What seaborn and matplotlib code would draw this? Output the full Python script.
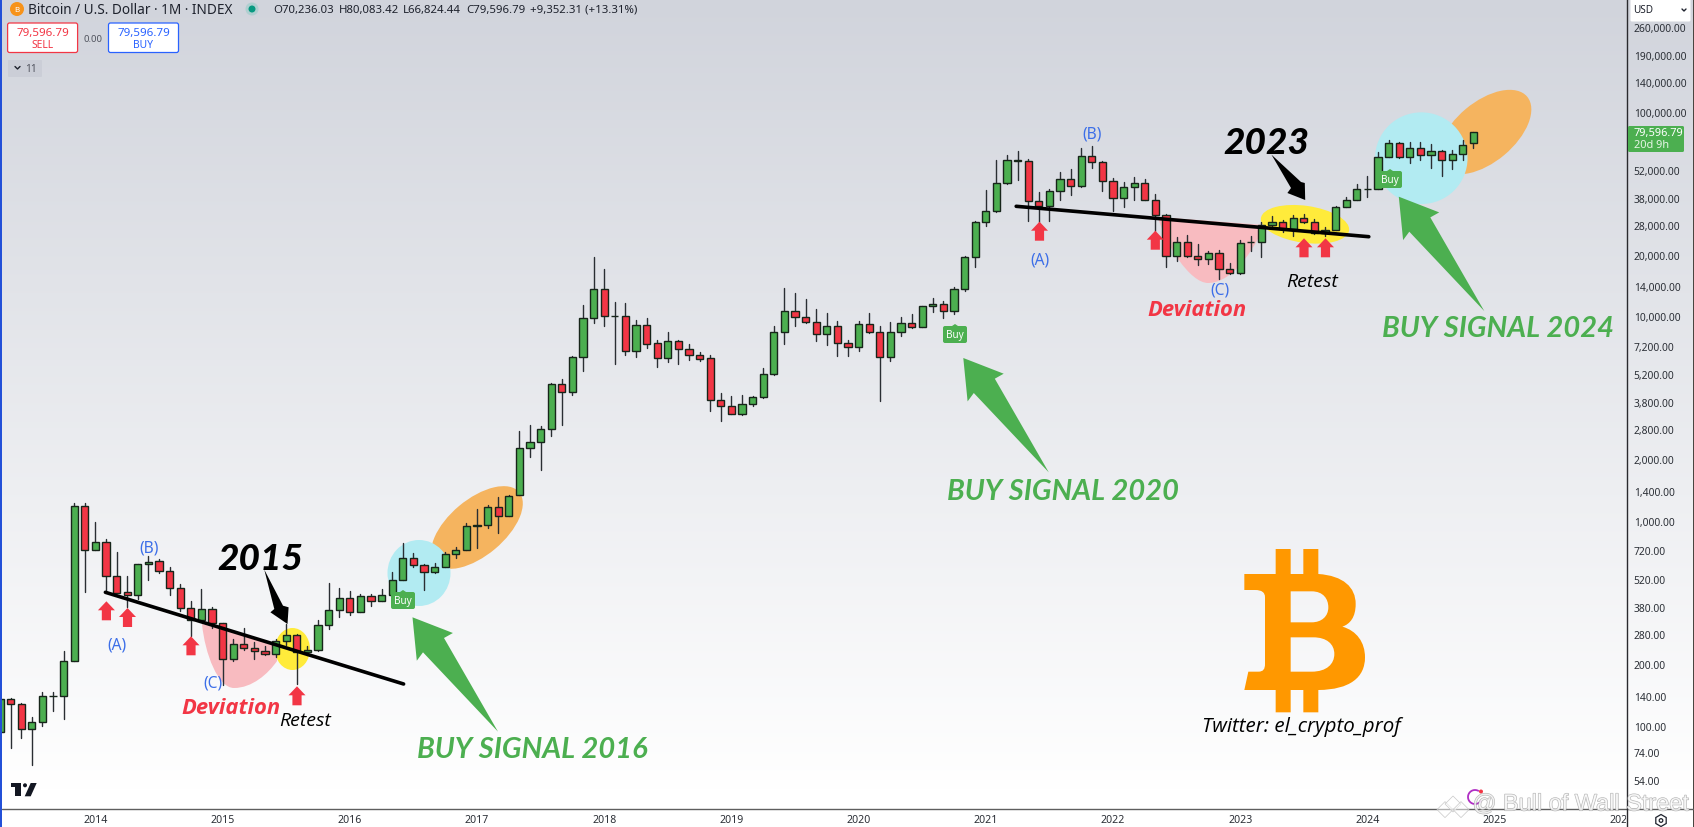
import numpy as np
import pandas as pd
import matplotlib
matplotlib.use("Agg")
import matplotlib.pyplot as plt
import seaborn as sns
from matplotlib.patches import Ellipse, FancyBboxPatch, PathPatch, Polygon, Circle, Rectangle, RegularPolygon
from matplotlib.path import Path
from matplotlib.transforms import Bbox, TransformedBbox, IdentityTransform
import matplotlib.patheffects as pe

# ---------- data ----------
months = pd.period_range("2013-04", "2024-11", freq="M")
opens = [93.5,135,128,95.7,104,139,140,206,1184,724,
 787,540,448,437,614,634,567,470,377,328,
 373,316,212,251,239,232,223,258,277,228,
 233,309,368,421,358,428,408,437,517,657,
 611,561,595,687,724,949,955,1171,1062,1335,
 2265,2423,2800,4671,4254,6357,9816,13645,10100,10100,
 6801,9079,7400,6286,7581,6930,6470,6240,3888,3634,
 3347,3745,4021,5211,8424,10624,9890,9422,8205,8978,
 7415,7061,9148,8360,6334,8424,9317,8911,11196,11494,
 10650,13609,19439,28820,32620,44885,58140,57270,36780,34640,
 41010,46760,43230,60580,56630,45710,38050,42750,44710,37200,
 31420,19660,23010,19810,19080,20340,16990,16300,23010,23100,
 28080,29040,26740,30150,29040,25500,26440,34380,37200,41950,
 42100,60350,70100,59900,66480,61700,64100,58140,62400,70236.03]
highs = [147,136,129,110,146,146,232,1220,1220,985,
 817,708,537,619,677,652,595,490,405,465,
 380,316,265,299,257,244,265,314,279,244,
 328,495,470,456,440,440,465,561,778,695,
 616,621,703,749,978,1144,1197,1305,1345,2743,
 2946,2902,4707,4924,6380,11366,19530,17050,11712,11584,
 9639,9855,7698,8423,7698,7304,6675,6480,4222,4067,
 4144,4067,5575,8978,13712,13010,12160,10866,10348,9493,
 7698,9457,10387,8978,9351,9967,10231,11280,12340,11845,
 13860,19640,29100,41476,58140,61500,64340,58790,40710,41950,
 50590,52520,66290,68280,57270,47290,45550,47820,46930,39650,
 31750,24340,24990,22580,20810,21110,18240,23720,24810,29040,
 31070,29710,31420,31640,30000,27240,34770,38200,44400,48730,
 63300,73060,71400,71400,71400,69490,65040,65040,73060,80083.42]
lows = [68,78,87,64,99,118,108,206,451,724,
 448,446,378,416,517,555,437,363,273,328,
 299,157,206,233,212,222,216,248,160,222,
 232,297,341,348,358,386,408,437,517,598,
 462,559,593,662,721,735,921,874,1058,1335,
 2047,1775,2612,2946,4128,5431,9286,9007,5853,6502,
 6357,6982,5681,6010,5853,6124,6032,3462,3093,3322,
 3310,3634,4010,5190,7359,9007,9246,7612,7276,6429,
 6380,6801,8330,3845,6078,8052,8778,8873,10465,9816,
 10300,13304,17370,27520,32260,44547,46580,29365,28820,29150,
 37200,39210,43000,52920,41170,32870,34250,37200,37060,26240,
 17370,18730,19590,17890,18130,15230,16120,16170,20960,19450,
 27760,25750,24700,28600,25150,24850,26340,34140,37200,38200,
 41800,60120,59500,56200,58140,52920,48720,52500,58140,66824.44]
closes = [135,128,95.7,104,139,140,206,1184,724,787,
 540,446,437,614,628,567,470,375,328,373,
 316,212,251,239,232,223,258,276,228,233,
 309,368,421,358,428,408,437,517,657,611,
 561,595,687,724,949,955,1171,1062,1330,2265,
 2423,2816,4671,4254,6357,9816,13645,10004,10000,6801,
 9079,7359,6286,7581,6930,6453,6193,3888,3634,3347,
 3745,4021,5211,8360,10624,9890,9422,8205,8978,7415,
 7061,9148,8360,6334,8424,9317,8911,11196,11494,10624,
 13609,19439,28826,32620,44885,58140,57270,36780,34640,41010,
 46760,43230,60580,56630,45710,38050,42750,44710,37200,31420,
 19660,23010,19810,19080,20340,16990,16300,22820,23100,28080,
 29040,26740,30150,29040,25460,26440,34380,37200,41950,42100,
 60350,70100,59900,66480,61700,64100,58140,62100,69200,79596.79]
price_ticks = [260000,190000,140000,100000,52000,38000,28000,20000,14000,10000,7200,5200,3800,
               2800,2000,1400,1000,720,520,380,280,200,140,100,74,54]
year_ticks = list(range(2014, 2027))

UP, DOWN, EDGE = "#4CAF50", "#F23645", "#17251A"
W, H = 1694, 828
FONT = "Noto Sans"
ANN = "Lato"
ANN2 = "Open Sans"

sns.set_theme(style="white")
plt.rcParams["font.family"] = [FONT, "DejaVu Sans"]

df = pd.DataFrame({"month": months, "open": opens, "high": highs, "low": lows, "close": closes})
df["x"] = [(m.year - 2014) * 12 + m.month - 1 for m in df["month"]]
long_df = pd.concat([df[["x", "high"]].rename(columns={"high": "price"}),
                     df[["x", "low"]].rename(columns={"low": "price"})])

fig = plt.figure(figsize=(W / 100, H / 100), dpi=100)

# background gradient
bg = fig.add_axes([0, 0, 1, 1], zorder=0)
top = np.array([0xD1, 0xD4, 0xDC]) / 255
t = np.clip(np.linspace(0, 1, H) / (790 / H), 0, 1)[:, None, None]
bg.imshow(top + (1 - top) * t, extent=[0, W, H, 0], aspect="auto")
bg.set_axis_off()

def px_axes(z):
    a = fig.add_axes([0, 0, 1, 1], zorder=z)
    a.set_xlim(0, W); a.set_ylim(H, 0); a.set_axis_off(); a.patch.set_alpha(0)
    return a

under = px_axes(1)
over = px_axes(3)

# main chart
ax = fig.add_axes([2 / W, (H - 810) / H, 1624 / W, 810 / H], zorder=2)
ax.patch.set_alpha(0)
ax.set_yscale("log")
sns.lineplot(data=long_df, x="x", y="price", units="x", estimator=None, sort=False,
             color="#2A2E33", lw=1.0, ax=ax, legend=False)
up = df["close"] >= df["open"]
ax.bar(df["x"], (df["close"] - df["open"]).abs(), bottom=df[["open", "close"]].min(axis=1), width=0.68,
       color=np.where(up, UP, DOWN), edgecolor=EDGE, linewidth=1.0, zorder=3)
ax.set_xlim(-8.811, 144.396)
ax.set_ylim(39.1, 355900)
ax.set_xlabel(""); ax.set_ylabel("")
for s in ax.spines.values():
    s.set_visible(False)
ax.yaxis.tick_right()
ax.yaxis.set_minor_locator(matplotlib.ticker.NullLocator())
ax.set_yticks(price_ticks)
ax.set_yticklabels([f"{v:,.2f}" for v in price_ticks], fontsize=7.4, color="#2B2F36", fontfamily=FONT)
ax.set_xticks([(y - 2014) * 12 for y in year_ticks])
ax.set_xticklabels(year_ticks, fontsize=7.6, color="#2B2F36", fontfamily=FONT)
ax.tick_params(axis="both", length=0, which="both")
ax.tick_params(axis="y", pad=5.6)
ax.tick_params(axis="x", pad=3.6)
clip = TransformedBbox(Bbox([[0, 0], [1626, H]]), IdentityTransform())
for lab in ax.get_xticklabels():
    lab.set_clip_box(clip); lab.set_clip_on(True)

# ---------- shapes beneath the candles ----------
PINK = "#F8BBC0"
under.add_patch(Ellipse((419, 574), 63, 66, color="#B2EBF2", zorder=3, lw=0))
under.add_patch(Ellipse((477, 528.5), 110, 56, angle=-40, color="#F5B45F", zorder=2, lw=0))
under.add_patch(Ellipse((292.5, 650), 35, 42, color="#FFEB3B", zorder=3, lw=0))
under.add_patch(Ellipse((1421.3, 159.2), 92.5, 91.7, color="#B2EBF2", zorder=3, lw=0))
under.add_patch(Ellipse((1485, 133), 110, 60, angle=-40, color="#F5B45F", zorder=2, lw=0))
under.add_patch(Ellipse((1305, 225.3), 89, 37, angle=8, color="#FFEB3B", zorder=3, lw=0))
def blob(p0, c1, c2, p1, c3, c4, p2, p3):
    v = [p0, c1, c2, p1, c3, c4, p2, p3, p0]
    k = [Path.MOVETO, Path.CURVE4, Path.CURVE4, Path.CURVE4, Path.CURVE4, Path.CURVE4, Path.CURVE4, Path.LINETO, Path.CLOSEPOLY]
    under.add_patch(PathPatch(Path(v, k), fc=PINK, lw=0, zorder=2))
blob((202, 625), (205, 655), (218, 689), (234, 689), (252, 689), (268, 675), (277, 662), (277, 645))
blob((1158, 218), (1165, 245), (1190, 284), (1208, 284), (1228, 284), (1248, 262), (1264, 228), (1264, 226))

# ---------- overlays ----------
def T(x, y, s, px, color="black", ha="center", weight="normal", style="normal", family=ANN, **kw):
    return over.text(x, y, s, fontsize=px * 0.72, color=color, ha=ha, va="center", weight=weight,
                     style=style, family=family, **kw)

for pts in [((105.4, 593.3), (403.6, 685)), ((1016.2, 207.3), (1368.8, 237.7))]:
    over.plot(*zip(*pts), color="black", lw=2.6, solid_capstyle="round")

def up_arrow(x, y, w=17, h=19):
    over.add_patch(Polygon([(x, y), (x + w / 2, y + 9), (x + .27 * w, y + 9), (x + .27 * w, y + h),
                            (x - .27 * w, y + h), (x - .27 * w, y + 9), (x - w / 2, y + 9)], fc=DOWN, lw=0))
for x, y in [(106.4, 602.3), (127.5, 609), (191, 637.3), (297, 687.3),
             (1039.5, 222.7), (1155.3, 231.7), (1304, 239.3), (1325.5, 239.3)]:
    up_arrow(x, y)

base = np.array([(412.5, 618.3), (452.9, 634), (444, 639), (498, 732.7), (423, 653.3), (416.8, 661.7)])
for dx, dy in [(0, 0), (550.8, -259.3), (986.3, -420.6)]:
    over.add_patch(Polygon(base + (dx, dy), fc=UP, lw=0))

over.add_patch(Polygon([(264.3, 570.7), (283, 606.7), (288.6, 608.3), (287.5, 625), (270.4, 613.3), (274.3, 610)], fc="black", lw=0))
over.add_patch(Polygon([(1271.5, 155.7), (1301, 183), (1304.8, 184), (1305.2, 201), (1287.4, 194), (1291, 189)], fc="black", lw=0))

for x, y, s in [(117, 646, "(A)"), (148.6, 548.3, "(B)"), (212.5, 684, "(C)"),
                (1039.5, 261, "(A)"), (1092.4, 134.3, "(B)"), (1219.7, 291, "(C)")]:
    T(x, y, s, 15.5, color="#3D6FE8", family=FONT)

for x, y, s in [(260, 560, "2015"), (1266.3, 143, "2023")]:
    T(x, y, s, 37, weight="black", style="italic")
for x, y in [(231.4, 708.5), (1196.8, 311)]:
    T(x, y, "Deviation", 22, color=DOWN, weight="bold", style="italic", family=ANN2)
for x, y in [(305.4, 721), (1312.2, 282)]:
    T(x, y, "Retest", 19.5, style="italic", weight="medium", family=ANN2)
for x, y, s in [(532, 750, "BUY SIGNAL 2016"), (1063, 492, "BUY SIGNAL 2020"), (1498.5, 329, "BUY SIGNAL 2024")]:
    T(x, y, s, 29, color=UP, weight="bold", style="italic")
T(1301.7, 727, "Twitter: el_crypto_prof", 20.5, style="italic", weight="medium", family=ANN2)

for x0, y0 in [(391, 593), (943, 327), (1378, 172)]:
    over.add_patch(FancyBboxPatch((x0 + 2, y0 + 2), 20, 13, boxstyle="round,pad=2", fc=UP, lw=0))
    over.add_patch(Polygon([(x0 + 9, y0), (x0 + 12, y0 - 2), (x0 + 15, y0)], fc=UP, lw=0))
    T(x0 + 12, y0 + 8.5, "Buy", 10, color="white", family=FONT)

# Bitcoin logo
def L(x, y):
    return (1180 + x / 3, 530 + y / 3)
verts, codes = [], []
def add(cmds):
    for c in cmds:
        if c[0] == "M":
            verts.append(L(*c[1])); codes.append(Path.MOVETO)
        elif c[0] == "L":
            verts.append(L(*c[1])); codes.append(Path.LINETO)
        elif c[0] == "C":
            for q in c[1:]:
                verts.append(L(*q)); codes.append(Path.CURVE4)
        else:
            verts.append(verts[-1]); codes.append(Path.CLOSEPOLY)
add([("M", (193, 135)), ("L", (287, 135)), ("L", (287, 60)), ("L", (332, 60)), ("L", (332, 135)), ("L", (370, 135)),
     ("L", (370, 60)), ("L", (415, 60)), ("L", (415, 135)), ("C", (490, 140), (527, 175), (527, 225)),
     ("C", (527, 265), (510, 285), (487, 293)), ("C", (530, 305), (555, 340), (555, 385)),
     ("C", (555, 445), (510, 482), (415, 483)), ("L", (415, 550)), ("L", (370, 550)), ("L", (370, 483)),
     ("L", (332, 483)), ("L", (332, 550)), ("L", (287, 550)), ("L", (287, 483)), ("L", (193, 483)),
     ("L", (205, 428)), ("L", (235, 428)), ("C", (250, 428), (255, 420), (255, 405)), ("L", (255, 205)),
     ("C", (255, 190), (245, 183), (225, 183)), ("L", (193, 183)), ("Z",)])
add([("M", (332, 187)), ("L", (332, 280)), ("L", (395, 280)), ("C", (425, 280), (445, 262), (445, 235)),
     ("C", (445, 210), (430, 187), (395, 187)), ("Z",)])
add([("M", (332, 325)), ("L", (332, 428)), ("L", (395, 428)), ("C", (440, 428), (463, 405), (463, 375)),
     ("C", (463, 345), (440, 325), (400, 325)), ("Z",)])
over.add_patch(PathPatch(Path(verts, codes), fc="#FF9800", lw=0))

# TradingView mark
over.add_patch(Polygon([(10.7, 784), (20.7, 784), (20.7, 797.3), (14.7, 797.3), (14.7, 788.3), (10.7, 788.3)], fc="#131722", lw=0))
over.add_patch(Circle((25, 786.3), 2, fc="#131722", lw=0))
over.add_patch(Polygon([(30.7, 784), (36.7, 784), (30.7, 797.3), (24.7, 797.3)], fc="#131722", lw=0))

# frame lines
over.plot([2, 1694], [810, 810], color="#5E5E5E", lw=1.0)
over.plot([1626.5, 1626.5], [0, 828], color="#2A2A2E", lw=1.0)
over.add_patch(Rectangle((0, 0), 2, H, fc="#2350D8", lw=0))
over.add_patch(Rectangle((1693, 0), 1, H, fc="#4A4540", lw=0))

# header
DARK = "#1E222D"
over.add_patch(Circle((17, 10), 7, fc="#F7931A", lw=0))
T(17, 10, "B", 8, color="white", family=FONT, weight="bold")
T(27.7, 10.3, "Bitcoin / U.S. Dollar · 1M · INDEX", 13.6, color=DARK, ha="left", family=FONT)
over.add_patch(Circle((252, 10), 6.5, fc="#AFCFD0", lw=0))
over.add_patch(Circle((252, 10), 3.5, fc="#089981", lw=0))
for x, s in [(273.7, "O70,236.03"), (339, "H80,083.42"), (403, "L66,824.44"), (466.5, "C79,596.79"),
             (530, "+9,352.31 (+13.31%)")]:
    T(x, 10.3, s, 11.4, color=DARK, ha="left", family=FONT)
for x0, col, lab in [(7.6, DOWN, "SELL"), (108.5, "#2962FF", "BUY")]:
    over.add_patch(FancyBboxPatch((x0 + 2, 26), 66, 25.5, boxstyle="round,pad=2", fc="white", ec=col, lw=0.9))
    T(x0 + 35, 33.3, "79,596.79", 11.6, color=col, family=FONT)
    T(x0 + 35, 46, lab, 10.3, color=col, family=FONT)
T(93.3, 39.3, "0.00", 9.5, color="#50535E", family=FONT)
over.add_patch(FancyBboxPatch((9, 62), 32, 15, boxstyle="round,pad=1", fc="#CBCED7", lw=0))
over.plot([15, 17.5, 20], [67.5, 70, 67.5], color=DARK, lw=1)
T(31, 69, "11", 10, color="#50535E", family=FONT)

# price label and currency box
over.add_patch(FancyBboxPatch((1628, 127), 56, 26, boxstyle="round,pad=0,rounding_size=1.5", fc=UP, lw=0, zorder=5))
T(1634, 133.3, "79,596.79", 11, color="white", ha="left", family=FONT, weight="bold", zorder=6)
T(1634, 145.6, "20d 9h", 11, color="#E6F5E6", ha="left", family=FONT, zorder=6)
over.add_patch(FancyBboxPatch((1632, -3), 57, 24, boxstyle="round,pad=1.5", fc="white", lw=0, zorder=5))
T(1633, 10.5, "USD", 10, color=DARK, ha="left", family=FONT, zorder=6)
over.plot([1682, 1684, 1686], [10, 12, 10], color=DARK, lw=1, zorder=6)

# settings glyph
over.add_patch(RegularPolygon((1661, 821.5), 6, radius=6, fc="none", ec=DARK, lw=0.9))
over.add_patch(Circle((1661, 821.5), 1.8, fc="none", ec=DARK, lw=0.9))

# watermark
T(1581, 805, "@ Bull of Wall Street", 23.5, color=(1, 1, 1, 0.45), family="Liberation Sans",
  path_effects=[pe.withStroke(linewidth=0.8, foreground=(0.62, 0.62, 0.62, 0.8)), pe.Normal()], zorder=7)
for dx in (-8, 0, 8):
    over.add_patch(Polygon([(1453 + dx, 797 + abs(dx) * .7), (1461 + dx, 805 + abs(dx) * .7), (1453 + dx, 813 + abs(dx) * .7), (1445 + dx, 805 + abs(dx) * .7)],
                           fc=(1, 1, 1, 0.5), ec="#C8C8C8", lw=0.5, zorder=6))
theta = np.linspace(0.6, 5.2, 40)
over.plot(1475 + 7 * np.cos(theta), 798 + 7 * np.sin(theta), color="#B02FC4", lw=1.3, zorder=6)
over.add_patch(Circle((1481, 792.5), 2, fc="#F23645", lw=0, zorder=6))

fig.savefig("out.png", dpi=100)
